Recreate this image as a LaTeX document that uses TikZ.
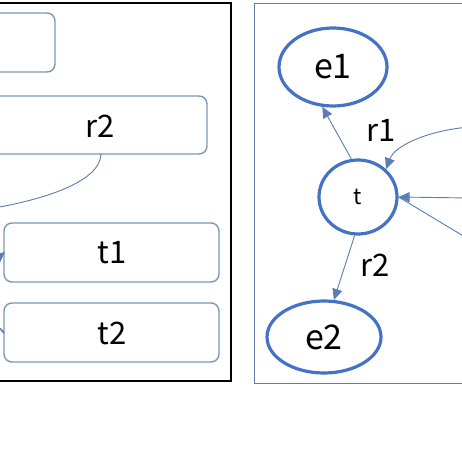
\documentclass[tikz,border=0pt]{standalone}
\usepackage{fontspec}
\setmainfont{Noto Sans CJK SC}
\usetikzlibrary{arrows.meta,shapes.geometric}
\definecolor{boxc}{HTML}{7A98B6}
\definecolor{ellc}{HTML}{4472C4}
\definecolor{linec}{HTML}{5A7DB2}
\definecolor{framec}{HTML}{5E7FA3}
\tikzset{
  rbox/.style={draw=boxc, line width=1.4pt, rounded corners=8pt},
  ell/.style={draw=ellc, line width=3.2pt, ellipse},
  conn/.style={draw=linec, line width=0.9pt},
  tip/.style={-{Triangle[length=11pt,width=10pt]}},
  lab/.style={font=\fontsize{31}{34}\selectfont, inner sep=0pt},
}
\begin{document}
\begin{tikzpicture}[x=1pt,y=-1pt]
\useasboundingbox (0,0) rectangle (462,462);
\fill[white] (0,0) rectangle (462,462);
\begin{scope}
\clip (0,0) rectangle (462,462);
% left frame
\draw[black, line width=2pt] (-10,3) rectangle (231,381);
\draw[rbox] (-20,13) rectangle (55,72);
\draw[rbox] (-20,96) rectangle (207,154);
\node[lab] (r2box) at (100,126) {r2};
\coordinate (r2b) at (101,154);
\draw[rbox] (4,223) rectangle (219,282);
\node[lab] (t1box) at (112,253) {t1};
\draw[rbox] (4,303) rectangle (219,362);
\node[lab] (t2box) at (112,333) {t2};
\coordinate (cl) at (-6,208);
\draw[conn] (r2b) .. controls (100,183) and (40,200) .. (cl);
\coordinate (a1s) at (-12,266);
\coordinate (a1e) at (5,252);
\draw[conn,tip] (a1s) -- (a1e);
\coordinate (a2s) at (-3,327);
\coordinate (a2e) at (4,333);
\draw[conn,line width=1.6pt] (a2s) .. controls (0,328) and (2,330) .. (a2e);
% right frame
\draw[framec, line width=0.9pt] (254,3) rectangle (475,383);
\node[ell, minimum width=108pt, minimum height=78pt] (e1) at (333,67) {};
\node[lab, font=\fontsize{34}{36}\selectfont] at (e1) {e1};
\node[ell, minimum width=78pt, minimum height=74pt] (t) at (358,197) {};
\node[lab, font=\fontsize{22}{24}\selectfont] at (t) {t};
\node[ell, minimum width=114pt, minimum height=72pt] (e2) at (324,337) {};
\node[lab, font=\fontsize{34}{36}\selectfont] at (e2) {e2};
\draw[conn,tip] (t.100) -- (e1.-105);
\draw[conn,tip] (t.-95) -- (e2.75);
\node[lab] (r1l) at (381,130) {r1};
\node[lab] (r2l) at (375,265) {r2};
\coordinate (c1) at (470,127);
\coordinate (c2) at (470,198);
\coordinate (c3) at (470,240);
\draw[conn,tip] (c1) .. controls (430,130) and (395,145) .. (t.45);
\draw[conn,tip] (c2) -- (t.east);
\draw[conn] (c3) -- (t.east);
\end{scope}
\end{tikzpicture}
\end{document}
